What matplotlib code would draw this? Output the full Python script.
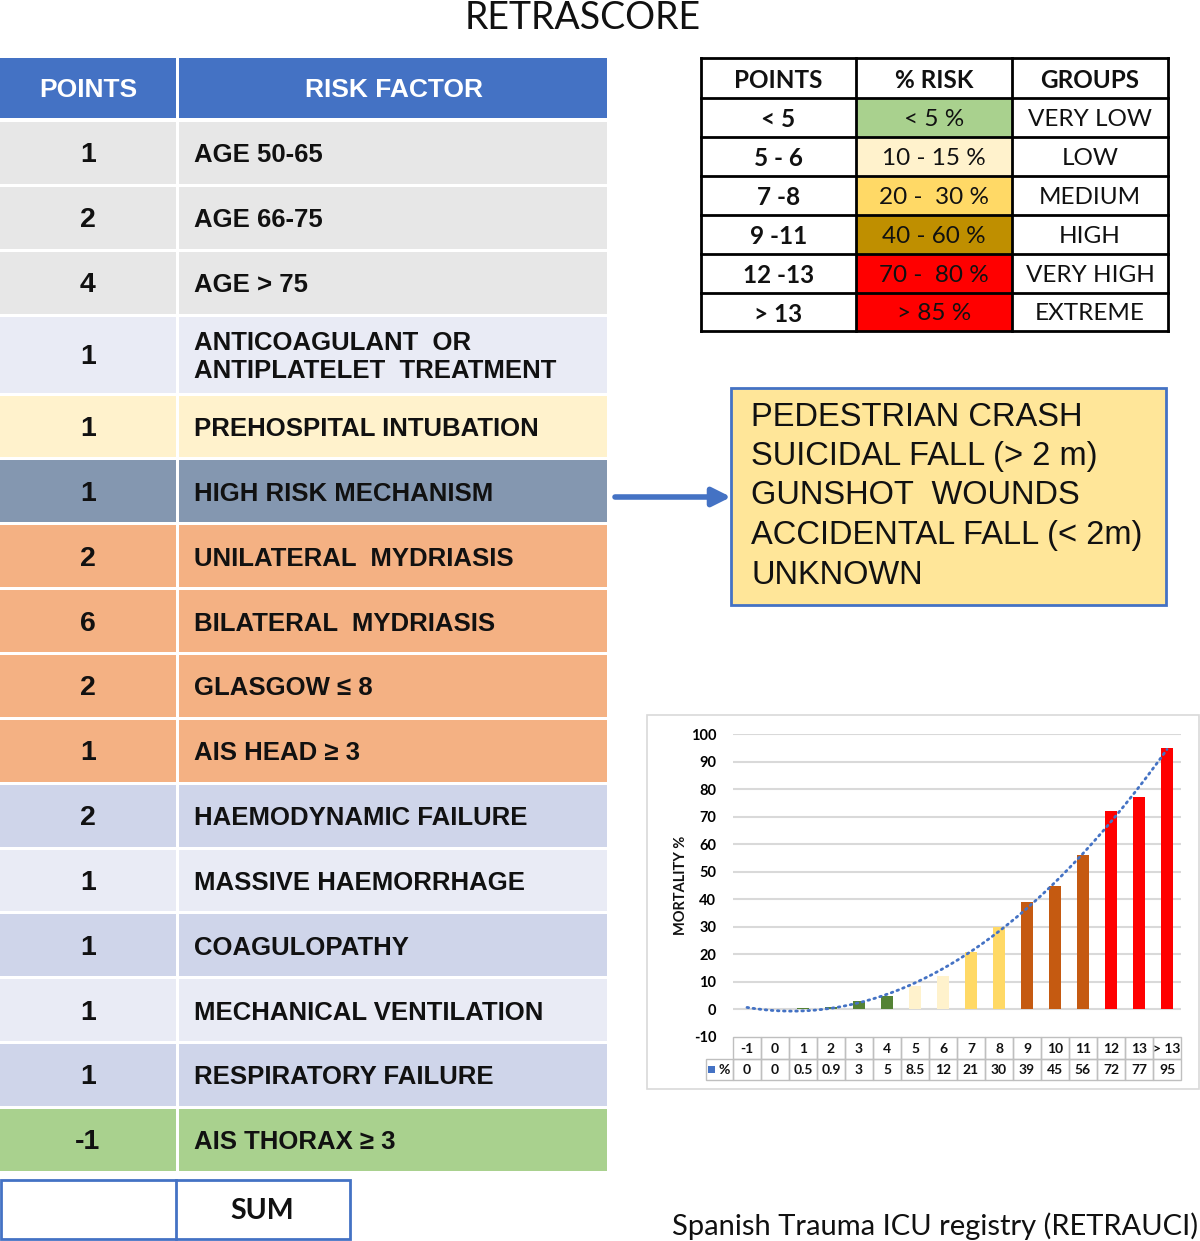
import numpy as np
import matplotlib
matplotlib.use("Agg")
import matplotlib.pyplot as plt
from matplotlib.patches import Rectangle

# ---------------- data ----------------
title = "RETRASCORE"
header_left = ["POINTS", "RISK FACTOR"]
points = ["1", "2", "4", "1", "1", "1", "2", "6", "2", "1", "2", "1", "1", "1", "1", "-1"]
factors = ["AGE 50-65", "AGE 66-75", "AGE > 75",
           "ANTICOAGULANT  OR\nANTIPLATELET  TREATMENT",
           "PREHOSPITAL INTUBATION", "HIGH RISK MECHANISM",
           "UNILATERAL  MYDRIASIS", "BILATERAL  MYDRIASIS",
           "GLASGOW ≤ 8", "AIS HEAD ≥ 3", "HAEMODYNAMIC FAILURE",
           "MASSIVE HAEMORRHAGE", "COAGULOPATHY", "MECHANICAL VENTILATION",
           "RESPIRATORY FAILURE", "AIS THORAX ≥ 3"]
row_colors = ["#E7E7E7", "#E7E7E7", "#E7E7E7", "#E9EBF5", "#FFF2CC", "#8497B0",
              "#F4B183", "#F4B183", "#F4B183", "#F4B183", "#CFD5EA", "#E9EBF5",
              "#CFD5EA", "#E9EBF5", "#CFD5EA", "#A9D18E"]

risk_header = ["POINTS", "% RISK", "GROUPS"]
risk_points = ["< 5", "5 - 6", "7 -8", "9 -11", "12 -13", "> 13"]
risk_pct = ["< 5 %", "10 - 15 %", "20 -  30 %", "40 - 60 %", "70 -  80 %", "> 85 %"]
risk_groups = ["VERY LOW", "LOW", "MEDIUM", "HIGH", "VERY HIGH", "EXTREME"]
risk_colors = ["#A9D18E", "#FFF2CC", "#FFD966", "#BF8F00", "#FF0000", "#FF0000"]

mechanisms = ["PEDESTRIAN CRASH", "SUICIDAL FALL (> 2 m)", "GUNSHOT  WOUNDS",
              "ACCIDENTAL FALL (< 2m)", "UNKNOWN"]

score_cats = ["-1", "0", "1", "2", "3", "4", "5", "6", "7", "8", "9", "10", "11", "12", "13", "> 13"]
mortality = [0, 0, 0.5, 0.9, 3, 5, 8.5, 12, 21, 30, 39, 45, 56, 72, 77, 95]
mortality_labels = ["0", "0", "0.5", "0.9", "3", "5", "8.5", "12", "21", "30", "39", "45", "56", "72", "77", "95"]
bar_colors = ["#548235", "#548235", "#548235", "#548235", "#548235", "#548235",
              "#FFF2CC", "#FFF2CC", "#FFD966", "#FFD966",
              "#C55A11", "#C55A11", "#C55A11", "#FF0000", "#FF0000", "#FF0000"]
yticks = [-10, 0, 10, 20, 30, 40, 50, 60, 70, 80, 90, 100]
footer = "Spanish Trauma ICU registry (RETRAUCI)"

# ---------------- figure ----------------
W, H = 1200, 1241
fig = plt.figure(figsize=(W / 100, H / 100), dpi=100)
ax = fig.add_axes([0, 0, 1, 1])
ax.set_xlim(0, W)
ax.set_ylim(H, 0)
ax.axis("off")

ARIAL = "Liberation Sans"
CAL = "Lato"

ax.text(583, 29, title, ha="center", va="baseline", fontsize=27, family=CAL, color="#111111")

# ---- left table ----
c1x0, c1x1, c2x0, c2x1 = 0, 176, 178.5, 607
ax.add_patch(Rectangle((c1x0, 58), c1x1 - c1x0, 60, fc="#4472C4", ec="none"))
ax.add_patch(Rectangle((c2x0, 58), c2x1 - c2x0, 60, fc="#4472C4", ec="none"))
ax.text(88, 90, header_left[0], ha="center", va="center", color="white",
        fontsize=19, fontweight="bold", family=ARIAL)
ax.text(394, 90, header_left[1], ha="center", va="center", color="white",
        fontsize=19, fontweight="bold", family=ARIAL)

y = 120.5
std_h = 64.85
for i, (p, f, c) in enumerate(zip(points, factors, row_colors)):
    h = 79 if "\n" in f else std_h
    ax.add_patch(Rectangle((c1x0, y + 1.5), c1x1 - c1x0, h - 3, fc=c, ec="none"))
    ax.add_patch(Rectangle((c2x0, y + 1.5), c2x1 - c2x0, h - 3, fc=c, ec="none"))
    cy = y + h / 2 + 2.5
    ax.text(88, cy, p, ha="center", va="center", fontsize=20.5, fontweight="bold",
            family=ARIAL, color="#111111")
    ax.text(194, cy, f, ha="left", va="center", fontsize=18.5, fontweight="bold",
            family=ARIAL, color="#111111", linespacing=1.25)
    y += h

# SUM box
ax.add_patch(Rectangle((1, 1180), 349, 59, fc="white", ec="#4472C4", lw=2))
ax.plot([176, 176], [1180, 1239], color="#4472C4", lw=2)
ax.text(262, 1211, "SUM", ha="center", va="center", fontsize=20.5, fontweight="bold",
        family=CAL, color="#111111")

# ---- right risk table ----
cols = [701, 856, 1012, 1168]
rows = [58, 98, 137, 176, 215, 254, 293, 331]
for r in range(6):
    ax.add_patch(Rectangle((cols[1], rows[r + 1]), cols[2] - cols[1],
                           rows[r + 2] - rows[r + 1], fc=risk_colors[r], ec="none"))
for xx in cols:
    ax.plot([xx, xx], [rows[0], rows[-1]], color="black", lw=2)
for yy in rows:
    ax.plot([cols[0], cols[-1]], [yy, yy], color="black", lw=2)
ccx = [(cols[i] + cols[i + 1]) / 2 for i in range(3)]
for j, t in enumerate(risk_header):
    ax.text(ccx[j], (rows[0] + rows[1]) / 2 + 2, t, ha="center", va="center",
            fontsize=17.5, fontweight="bold", family=CAL, color="#111111")
for r in range(6):
    cy = (rows[r + 1] + rows[r + 2]) / 2 + 2
    ax.text(ccx[0], cy, risk_points[r], ha="center", va="center", fontsize=17.5,
            fontweight="bold", family=CAL, color="#111111")
    ax.text(ccx[1], cy, risk_pct[r], ha="center", va="center", fontsize=17.5,
            family=CAL, color="#111111")
    ax.text(ccx[2], cy, risk_groups[r], ha="center", va="center", fontsize=17.5,
            family=CAL, color="#111111")

# ---- callout box & arrow ----
ax.add_patch(Rectangle((731, 388), 435, 217, fc="#FFE699", ec="#4472C4", lw=2))
for k, t in enumerate(mechanisms):
    ax.text(751, 417 + k * 39.5, t, ha="left", va="center", fontsize=23.5,
            family=ARIAL, color="#111111")
ax.annotate("", xy=(731, 497), xytext=(615, 497),
            arrowprops=dict(arrowstyle="-|>,head_length=1.1,head_width=0.55",
                            color="#4472C4", lw=4, shrinkA=0, shrinkB=0))

# ---- chart panel ----
ax.add_patch(Rectangle((647, 715), 552, 374, fc="white", ec="#D9D9D9", lw=1.2))
X0, X1, Ytop, Ybot = 733, 1181, 734, 1037
cax = fig.add_axes([X0 / W, 1 - Ybot / H, (X1 - X0) / W, (Ybot - Ytop) / H])
cax.set_facecolor("none")
xs = np.arange(len(mortality))
cax.bar(xs, mortality, width=0.46, color=bar_colors, zorder=3)
coef = np.polyfit(xs, mortality, 2)
xf = np.linspace(0, len(mortality) - 1, 200)
cax.plot(xf, np.polyval(coef, xf), color="#4472C4", lw=2, ls=(0, (0.6, 1.6)),
         dash_capstyle="round", zorder=4)
cax.set_xlim(-0.5, len(mortality) - 0.5)
cax.set_ylim(-10, 100)
cax.set_yticks(yticks)
cax.set_yticklabels([str(v) for v in yticks], fontsize=10.5, fontweight="bold", family=CAL)
for v in yticks:
    if v >= 0:
        cax.axhline(v, color="#D9D9D9", lw=1.5, zorder=1)
cax.set_xticks([])
cax.tick_params(axis="y", length=0, pad=12)
for s in cax.spines.values():
    s.set_visible(False)
ax.text(681, 885, "MORTALITY %", rotation=90, ha="center", va="center",
        fontsize=10.5, fontweight="bold", family=CAL, color="#111111")

# data table beneath chart
CW = (X1 - X0) / len(score_cats)
r1, r2, r3 = 1037, 1059, 1080
gc = "#BFBFBF"
for i, (c, v) in enumerate(zip(score_cats, mortality_labels)):
    x0 = X0 + i * CW
    ax.add_patch(Rectangle((x0, r1), CW, r2 - r1, fc="none", ec=gc, lw=1))
    ax.add_patch(Rectangle((x0, r2), CW, r3 - r2, fc="none", ec=gc, lw=1))
    ax.text(x0 + CW / 2, (r1 + r2) / 2 + 1, c, ha="center", va="center",
            fontsize=10, fontweight="bold", family=CAL, color="#111111")
    ax.text(x0 + CW / 2, (r2 + r3) / 2 + 1, v, ha="center", va="center",
            fontsize=10, fontweight="bold", family=CAL, color="#111111")
ax.add_patch(Rectangle((706, r2), X0 - 706, r3 - r2, fc="none", ec=gc, lw=1))
ax.add_patch(Rectangle((708, 1066), 7, 7, fc="#4472C4", ec="none"))
ax.text(724, (r2 + r3) / 2 + 1, "%", ha="center", va="center", fontsize=10,
        fontweight="bold", family=CAL, color="#111111")

# footer
ax.text(1198, 1226, footer, ha="right", va="center", fontsize=21, family=CAL,
        color="#111111")

fig.savefig("out.png", dpi=100)
